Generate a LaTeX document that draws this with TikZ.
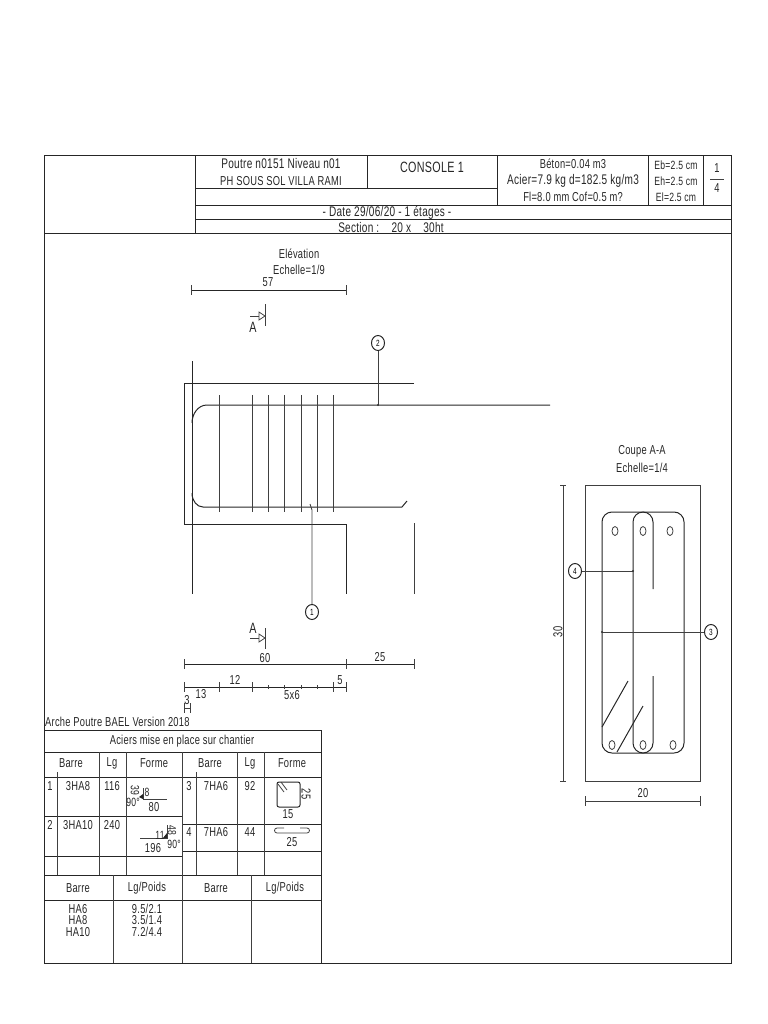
\documentclass[tikz,border=0pt]{standalone}
\usepackage{fontspec}
\setmainfont[FakeStretch=0.72,LetterSpace=2]{Liberation Sans}
\usetikzlibrary{arrows.meta}
\usetikzlibrary{shapes.geometric}
\tikzset{
  lbl/.style={inner sep=0pt,text=black!85,font=\fontsize{13}{14}\selectfont},
  wide/.style={inner sep=0pt,text=black!85,font=\fontsize{14}{15}\selectfont},
  small/.style={inner sep=0pt,text=black!85,font=\fontsize{12}{13}\selectfont},
  big/.style={inner sep=0pt,text=black!85,font=\fontsize{15}{18}\selectfont},
  callout/.style={draw=black!85,ellipse,line width=1pt,inner sep=0pt,minimum width=13bp,minimum height=15bp,font=\fontsize{9}{10}\selectfont},
  frameline/.style={line width=1pt,draw=black!85},
  barline/.style={line width=1pt,draw=black!85},
  thinline/.style={line width=0.8pt,draw=black!75}
}
\begin{document}
\begin{tikzpicture}[x=1bp,y=-1bp]
  \useasboundingbox (0,0) rectangle (768,1024);
  \pgfmathsetmacro{\dt}{5.}
  % title block
  \draw[frameline] (44,155) rectangle (731,963);
  \draw[frameline] (195,155) -- (195,233);
  \draw[frameline] (195,188) -- (497,188);
  \draw[frameline] (195,205) -- (731,205);
  \draw[frameline] (195,219) -- (731,219);
  \draw[frameline] (44,233) -- (731,233);
  \draw[frameline] (367,155) -- (367,188);
  \draw[frameline] (497,155) -- (497,205);
  \draw[frameline] (648,155) -- (648,205);
  \draw[frameline] (703,155) -- (703,205);
  \draw[thinline] (710,179) -- (724,179);
  \node[wide] (poutre) at (281,164) {Poutre n0151 Niveau n01};
  \node[lbl] (villa) at (281,181) {PH SOUS SOL VILLA RAMI};
  \node[big] (console) at (432,167) {CONSOLE 1};
  \node[lbl] (beton) at (573,164) {Béton=0.04 m3};
  \node[wide] (acier) at (573,181) {Acier=7.9 kg d=182.5 kg/m3};
  \node[lbl] (fi) at (573,197) {Fl=8.0 mm Cof=0.5 m?};
  \node[small] (eb) at (676,165) {Eb=2.5 cm};
  \node[small] (eh) at (676,181) {Eh=2.5 cm};
  \node[small] (el) at (676,197) {El=2.5 cm};
  \node[lbl] (num) at (717,168) {1};
  \node[lbl] (den) at (717,188) {4};
  \node[wide] (date) at (387,213) {- Date 29/06/20 - 1 étages -};
  \node[wide] (section) at (391,228) {Section :\ \ \ \ 20 x\ \ \ \ 30ht};

  % elevation
  \node[lbl] (elev) at (299,254) {Elévation};
  \node[lbl] (echa) at (299,270) {Echelle=1/9};
  \node[lbl] (dima) at (268,282) {57};
  \draw[frameline] (191,290) -- (346,290);
  \foreach \x in {191,346} \draw[thinline] (\x,290-\dt) -- (\x,290+\dt);

  \draw[thinline] (265,304) -- (265,326);
  \draw[thinline] (250,316) -- (259,316);
  \draw[thinline] (259,312) -- (265,316) -- (259,320) -- cycle;
  \node[big] (seca) at (253,327) {A};

  \draw[frameline] (414,383) -- (184,383) -- (184,524) -- (346,524) -- (346,594);
  \draw[thinline] (414,523) -- (414,594);
  \draw[barline] (192,361) -- (192,594);
  \draw[barline] (550,405) -- (207,405) .. controls (198,405) and (192,414) .. (192,423);
  \draw[barline] (192,493) .. controls (192,501) and (197,507) .. (203,507) -- (402,507) -- (407,501);
  \foreach \x in {219,252,268,284,301,317,333}
    \draw[thinline] (\x,395) -- (\x,512);

  \node[callout] (cb) at (378,343) {2};
  \coordinate (cbend) at (378,405);
  \draw[thinline] (cb) -- (cbend);
  \fill[black!80] (cbend) circle [radius=1.2];
  \node[callout] (ca) at (312,612) {1};
  \coordinate (caend) at (312,510);
  \coordinate (cakink) at (310,504);
  \draw[thinline] (ca) -- (caend) -- (cakink);

  \node[big] (secb) at (253,628) {A};
  \draw[thinline] (265,628) -- (265,649);
  \draw[thinline] (250,638) -- (259,638);
  \draw[thinline] (259,634) -- (265,638) -- (259,642) -- cycle;

  % dimensions
  \draw[frameline] (184,664) -- (414,664);
  \foreach \x in {184,346,414} \draw[thinline] (\x,664-\dt) -- (\x,664+\dt);
  \node[lbl] (dimb) at (265,658) {60};
  \node[lbl] (dimc) at (380,657) {25};
  \draw[frameline] (184,687) -- (346,687);
  \foreach \x in {184,219,252,333,346} \draw[thinline] (\x,687-\dt) -- (\x,687+\dt);
  \foreach \x in {268,284,301,317} \draw[thinline] (\x,687-2) -- (\x,687+2);
  \node[lbl] (dimd) at (235,680) {12};
  \node[lbl] (dime) at (201,694) {13};
  \node[lbl] (dimf) at (292,695) {5x6};
  \node[lbl] (dimg) at (340,680) {5};
  \node[lbl] (dimh) at (187,700) {3};
  \draw[thinline] (184,708) -- (190,708);
  \foreach \x in {184,190} \draw[thinline] (\x,703) -- (\x,713);

  % section
  \node[lbl] (coupe) at (642,451) {Coupe A-A};
  \node[lbl] (echb) at (642,468) {Echelle=1/4};
  \draw[thinline] (585,485) rectangle (700,781);
  \draw[barline,rounded corners=10] (602,632) -- (602,512) -- (684,512) -- (684,753) -- (602,753) -- (602,632);
  \draw[barline] (653,589) -- (653,522) arc [start angle=0,end angle=-180,radius=10] -- (633,743)
    arc [start angle=180,end angle=0,radius=10] -- (653,676);
  \draw[barline] (602,727) -- (628,681);
  \draw[barline] (617,752) -- (643,706);
  \foreach \x in {615,643,670}
    \draw[thinline] (\x,531) ellipse [x radius=3,y radius=4.5];
  \foreach \x in {612,643,673}
    \draw[thinline] (\x,745) ellipse [x radius=3,y radius=4.5];
  \node[callout] (cd) at (575,571) {4};
  \coordinate (cdend) at (633,571);
  \draw[thinline] (cd) -- (cdend);
  \fill[black!80] (cdend) circle [radius=1.2];
  \node[callout] (cc) at (711,632) {3};
  \coordinate (ccend) at (602,632);
  \draw[thinline] (cc) -- (ccend);
  \fill[black!80] (ccend) circle [radius=1.2];
  \draw[thinline] (563,485) -- (563,781);
  \foreach \y in {485,781} \draw[thinline] (560,\y) -- (566,\y);
  \node[lbl,rotate=90] (dimi) at (558,632) {30};
  \draw[thinline] (585,801) -- (700,801);
  \foreach \x in {585,700} \draw[thinline] (\x,801-\dt) -- (\x,801+\dt);
  \node[lbl] (dimj) at (643,793) {20};

  % steel table
  \node[lbl,anchor=west] (arche) at (45,722) {Arche Poutre BAEL Version 2018};
  \draw[frameline] (44,730) rectangle (321,963);
  \draw[frameline] (44,752) -- (321,752);
  \draw[frameline] (44,777) -- (321,777);
  \draw[frameline] (44,816) -- (182,816);
  \draw[frameline] (44,856) -- (182,856);
  \draw[frameline] (182,824) -- (321,824);
  \draw[frameline] (182,851) -- (321,851);
  \draw[frameline] (44,875) -- (321,875);
  \draw[frameline] (44,900) -- (321,900);
  \foreach \x in {57,196} \draw[thinline] (\x,772) -- (\x,875);
  \foreach \x in {99,126,237,264} \draw[thinline] (\x,752) -- (\x,875);
  \draw[thinline] (182,752) -- (182,963);
  \foreach \x in {113,251} \draw[thinline] (\x,875) -- (\x,963);

  \node[lbl] (aciers) at (182,741) {Aciers mise en place sur chantier};
  \foreach \x/\t [count=\i] in {71/Barre,112/Lg,154/Forme,210/Barre,250/Lg,292/Forme}
    \node[lbl] (head\i) at (\x,763) {\t};
  \foreach \x/\y/\t [count=\i] in {50/786/1,78/786/3HA8,112/786/116,50/825/2,78/825/3HA10,112/825/240,
    189/786/3,216/786/7HA6,250/786/92,189/832/4,216/832/7HA6,250/832/44}
    \node[lbl] (cell\i) at (\x,\y) {\t};

  % bar shapes
  \draw[thinline] (143,788) -- (143,799) -- (167,799);
  \fill[black!85] (139,797) -- (143,794) -- (143,799) -- cycle;
  \node[small,rotate=-90] (forma) at (135,790) {39};
  \node[small] (formb) at (133,802) {90°};
  \node[small] (formc) at (147,792) {8};
  \node[lbl] (formd) at (154,807) {80};
  \draw[thinline] (140,838) -- (167,838) -- (167,825);
  \fill[black!85] (163,838) -- (167,833) -- (167,838) -- cycle;
  \node[small,rotate=-90] (forme) at (172,830) {48};
  \node[small] (formf) at (160,835) {11};
  \node[lbl] (formg) at (153,848) {196};
  \node[small] (formh) at (174,844) {90°};
  \draw[barline,rounded corners=2] (277,782) rectangle (300,807);
  \draw[thinline] (278,784) -- (284,792);
  \draw[thinline] (281,782) -- (287,790);
  \node[lbl,rotate=-90] (formi) at (306,794) {25};
  \node[lbl] (formj) at (288,814) {15};
  \draw[thinline] (284,828) -- (277,828) arc [start angle=270,end angle=90,radius=2.5] -- (307,833)
    arc [start angle=90,end angle=-90,radius=2.5] -- (300,828);
  \node[lbl] (formk) at (292,842) {25};

  % weights table
  \foreach \x/\t [count=\i] in {78/Barre,147/{Lg/Poids},216/Barre,285/{Lg/Poids}}
    \node[lbl] (poids\i) at (\x,888) {\t};
  \foreach \y/\a/\b [count=\i] in {909/HA6/{9.5/2.1},920/HA8/{3.5/1.4},932/HA10/{7.2/4.4}} {
    \node[lbl] (nuance\i) at (78,\y) {\a};
    \node[lbl] (total\i) at (147,\y) {\b};
  }
\end{tikzpicture}
\end{document}
